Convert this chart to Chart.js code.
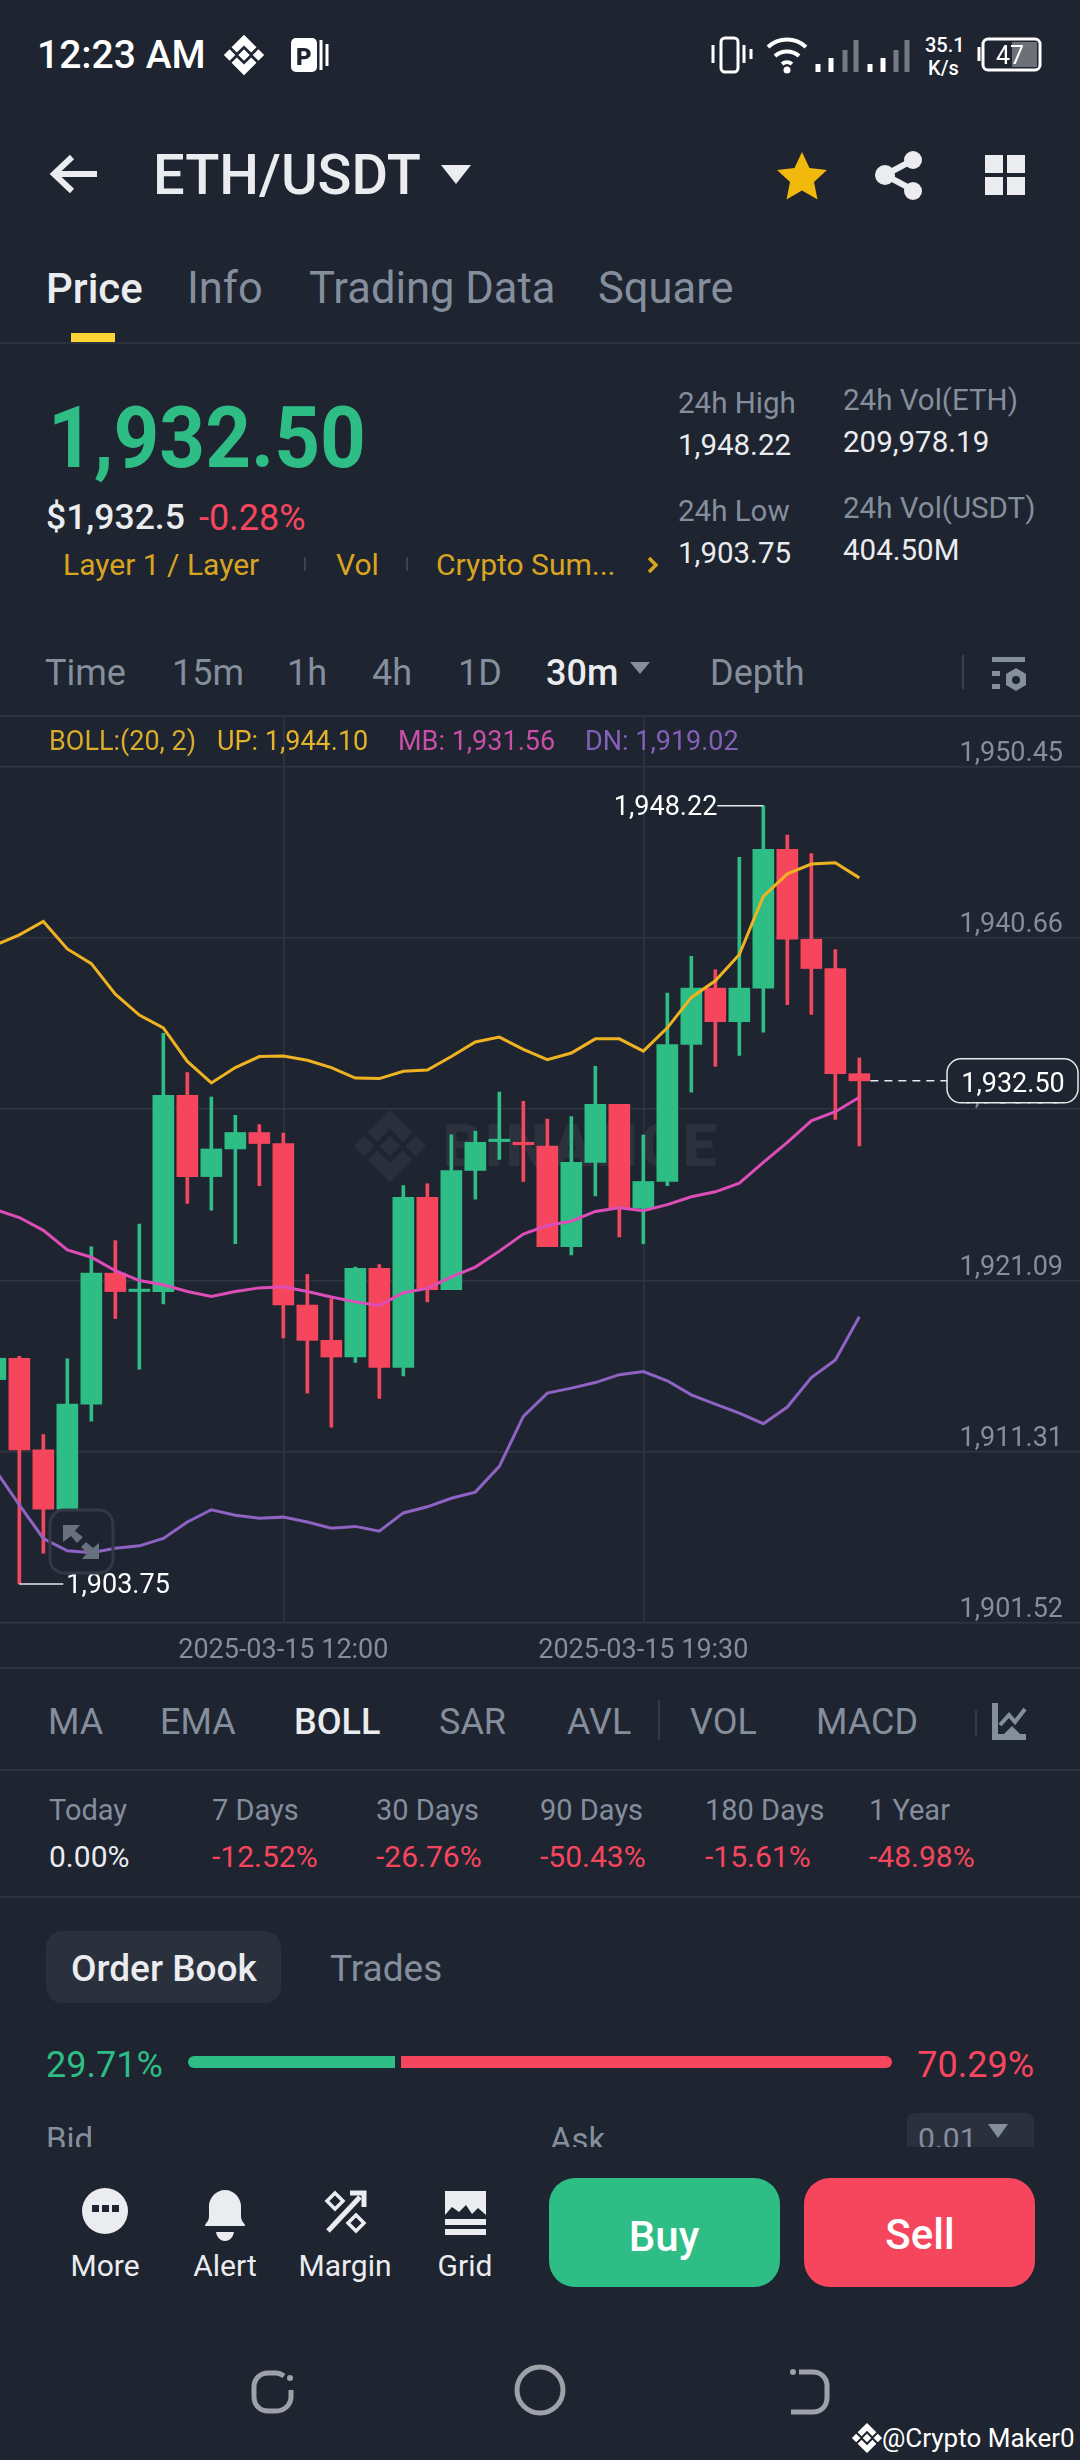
<!DOCTYPE html>
<html>
<head>
<meta charset="utf-8">
<title>ETH/USDT</title>
<script src="https://cdn.jsdelivr.net/npm/chart.js@4"></script>
<style>
  html, body { margin: 0; padding: 0; background: #1e2430; }
  #page { position: relative; width: 1080px; height: 2460px; overflow: hidden; background: #1e2430; font-family: Roboto, sans-serif; }
  .t { position: absolute; white-space: nowrap; transform: translateY(-50%); line-height: 1; }
  .rule { position: absolute; left: 0; width: 1080px; height: 2px; background: #2c323e; }
  #chartWrap { position: absolute; left: 0; top: 716px; width: 1080px; height: 952px; }
  #bookClip { position: absolute; left: 0; top: 2100px; width: 1080px; height: 47px; overflow: hidden; }
  #icons { position: absolute; left: 0; top: 0; pointer-events: none; }
</style>
</head>
<body>
<div id="page">
  <svg id="watermark" style="position:absolute;left:0;top:0" width="1080" height="2460" viewBox="0 0 1080 2460">
    <defs>
      <symbol id="bnb" viewBox="0 0 100 100">
        <path d="M50 8 L76 34 L65 45 L50 30 L35 45 L24 34 Z M50 92 L76 66 L65 55 L50 70 L35 55 L24 66 Z M8 50 L20 38 L32 50 L20 62 Z M92 50 L80 38 L68 50 L80 62 Z M50 38 L62 50 L50 62 L38 50 Z"/>
      </symbol>
    </defs>
    <use href="#bnb" x="347" y="1103" width="86" height="86" fill="#292f3b"/>
    <text x="443" y="1166" font-family="Roboto" font-weight="900" font-size="60" letter-spacing="3" fill="#2b313d">BINANCE</text>
  </svg>
  <div id="chartWrap"><canvas id="klineChart" width="1080" height="952"></canvas></div>
  <svg id="icons" width="1080" height="2460" viewBox="0 0 1080 2460">
    <!-- status bar -->
    <use href="#bnb" x="220" y="31" width="48" height="48" fill="#fff"/>
    <rect x="291" y="38" width="26" height="34" rx="5" fill="#fff"/>
    <text x="296" y="65" font-family="Roboto" font-weight="900" font-size="24" fill="#1e2430">P</text>
    <path d="M321 40v30M327 44v22" stroke="#fff" stroke-width="3"/>
    <rect x="721" y="38" width="17" height="34" rx="4" fill="none" stroke="#fff" stroke-width="3"/>
    <path d="M713 45v18M744 45v18M751 49v10" stroke="#fff" stroke-width="3"/>
    <path d="M768 47a28 28 0 0 1 38 0M775 56a18 18 0 0 1 24 0M782 64a8 8 0 0 1 10 0" fill="none" stroke="#fff" stroke-width="4"/>
    <circle cx="787" cy="70" r="3.5" fill="#fff"/>
    <path d="M818 64v8M831 58v14" stroke="#fff" stroke-width="5"/><path d="M845 50v22M856 40v32" stroke="#757a84" stroke-width="5"/>
    <path d="M870 64v8M883 58v14" stroke="#fff" stroke-width="5"/><path d="M896 50v22M907 40v32" stroke="#757a84" stroke-width="5"/>
    <rect x="1012" y="42" width="25" height="25" fill="#6c7079"/>
    <rect x="983" y="39" width="57" height="31" rx="5" fill="none" stroke="#fff" stroke-width="3"/>
    <path d="M979 47v14" stroke="#fff" stroke-width="3"/>
    <text x="1010" y="64" text-anchor="middle" font-family="Roboto" font-size="25" fill="#fff">47</text>
    <!-- header -->
    <path d="M54 174h43M72 157l-18 17 18 17" fill="none" stroke="#eaecef" stroke-width="6"/>
    <path d="M441 165h30l-15 19z" fill="#eaecef"/>
    <path d="M802 152l7.5 16 17.5 2-13 12 3.5 17.5-15.5-9-15.5 9 3.5-17.5-13-12 17.5-2z" fill="#f0b90b"/>
    <path d="M913 160L885 175l28 15" fill="none" stroke="#eaecef" stroke-width="6"/>
    <circle cx="913" cy="160" r="9" fill="#eaecef"/><circle cx="885" cy="175" r="10" fill="#eaecef"/><circle cx="913" cy="191" r="9" fill="#eaecef"/>
    <path d="M985 155h18v18h-18zM1007 155h18v18h-18zM985 177h18v18h-18zM1007 177h18v18h-18z" fill="#eaecef"/>
    <!-- tabs and tag row -->
    <rect x="71" y="333" width="44" height="9" fill="#fcd535"/>
    <path d="M305 557v14M407 557v14" stroke="#3a404c" stroke-width="2"/>
    <path d="M649 558l7 7-7 7" fill="none" stroke="#d9a520" stroke-width="3.5"/>
    <!-- interval row -->
    <path d="M630 662h20l-10 12z" fill="#848e9c"/>
    <path d="M963 655v34" stroke="#3a404c" stroke-width="2"/>
    <path d="M992 657h33v5h-33zM992 671h8v5h-8zM992 684h8v5h-8z" fill="#848e9c"/>
    <path d="M1016 668l10 6v11l-10 6-10-6v-11z" fill="#848e9c"/><circle cx="1016" cy="680" r="4" fill="#1e2430"/>
    <!-- expand button on the chart -->
    <rect x="50" y="1510" width="63" height="63" rx="14" fill="none" stroke="#333946" stroke-width="3"/>
    <path d="M63 1525h17l-5 6 8 6-6 6-6-7-8 6zM99 1559H82l5-6-6-6 5-5 7 6 6-5z" fill="#69707d"/>
    <!-- indicator row -->
    <path d="M659 1700v40M976 1710v26" stroke="#343a46" stroke-width="2"/>
    <path d="M992 1703h6v31h28v6h-34z" fill="#848e9c"/>
    <path d="M1000 1725l9-10 6 7 10-13" fill="none" stroke="#848e9c" stroke-width="4"/>
    <path d="M1004 1734l8-8 8 8z" fill="#848e9c"/>
    <!-- bottom bar -->
    <circle cx="105" cy="2211" r="23" fill="#eaecef"/>
    <path d="M92 2205h7v7h-7zM102 2205h7v7h-7zM112 2205h7v7h-7z" fill="#1e2430"/>
    <path d="M205 2226c0-3 4-4 4-10v-10c0-8 7-16 16-16s16 8 16 16v10c0 6 4 7 4 10z M216 2232h18c-1 6-5 9-9 9s-8-3-9-9z" fill="#eaecef"/>
    <path d="M328 2231l32-34" stroke="#eaecef" stroke-width="5"/>
    <path d="M350 2193h14v14" fill="none" stroke="#eaecef" stroke-width="5"/>
    <path d="M335 2193l8 8-8 8-8-8zM356 2215l8 8-8 8-8-8z" fill="none" stroke="#eaecef" stroke-width="3.5"/>
    <path d="M445 2191h41v24l-8-7-6 6-6-9-7 7-7-5-7 8z" fill="#eaecef"/>
    <path d="M445 2219h41v6h-41zM445 2229h41v6h-41z" fill="#eaecef"/>
    <!-- nav -->
    <path d="M284 2376c-3-2-5-3-8-3h-8c-8 0-14 6-14 14v10c0 8 6 14 14 14h8c8 0 15-6 15-14v-7" fill="none" stroke="#9ea1a8" stroke-width="5"/>
    <circle cx="290" cy="2378" r="3" fill="#9ea1a8"/>
    <ellipse cx="540" cy="2390" rx="23" ry="23" fill="none" stroke="#9ea1a8" stroke-width="5"/>
    <path d="M799 2372h14c8 0 14 6 14 14v12c0 8-6 14-14 14h-22" fill="none" stroke="#9ea1a8" stroke-width="5"/>
    <circle cx="793" cy="2372" r="3" fill="#9ea1a8"/>
    <use href="#bnb" x="849" y="2420" width="36" height="36" fill="#fff"/>
  </svg>
</div>

<script>
// chart data
const candleTimes = [
  '06:00', '06:30', '07:00', '07:30', '08:00', '08:30', '09:00', '09:30', '10:00', '10:30',
  '11:00', '11:30', '12:00', '12:30', '13:00', '13:30', '14:00', '14:30', '15:00', '15:30',
  '16:00', '16:30', '17:00', '17:30', '18:00', '18:30', '19:00', '19:30', '20:00', '20:30',
  '21:00', '21:30', '22:00', '22:30', '23:00', '23:30', '00:00'
];
const opens = [
  1915.43, 1916.65, 1911.41, 1908.02, 1914.03, 1921.51, 1920.46, 1920.46, 1931.68, 1927.03,
  1928.61, 1929.55, 1928.92, 1919.69, 1917.67, 1916.72, 1921.79, 1916.13, 1925.85, 1920.57,
  1927.38, 1929.03, 1928.99, 1928.78, 1923.02, 1927.84, 1931.16, 1925.22, 1926.75, 1934.58,
  1937.80, 1935.88, 1937.80, 1945.73, 1940.59, 1938.92, 1932.91
];
const closes = [
  1916.65, 1911.41, 1908.02, 1914.03, 1921.51, 1920.46, 1920.60, 1931.68, 1927.03, 1928.61,
  1929.55, 1928.92, 1919.69, 1917.67, 1916.72, 1921.79, 1916.13, 1925.85, 1920.57, 1927.38,
  1928.99, 1929.17, 1928.85, 1923.02, 1927.84, 1931.16, 1925.22, 1926.75, 1934.58, 1937.80,
  1935.88, 1937.80, 1945.73, 1940.59, 1938.92, 1932.91, 1932.50
];
const highs = [
  1916.76, 1916.76, 1912.29, 1916.62, 1923.02, 1923.37, 1924.31, 1935.21, 1932.98, 1931.58,
  1930.53, 1930.00, 1929.52, 1921.44, 1920.04, 1921.86, 1922.00, 1926.51, 1926.62, 1929.41,
  1929.62, 1931.86, 1931.33, 1930.32, 1930.46, 1933.33, 1931.16, 1929.41, 1937.52, 1939.62,
  1938.85, 1945.28, 1948.22, 1946.54, 1945.49, 1940.00, 1933.81
];
const lows = [
  1915.26, 1903.75, 1905.51, 1908.02, 1913.05, 1918.92, 1916.03, 1919.76, 1925.50, 1925.11,
  1923.19, 1926.51, 1917.81, 1914.66, 1912.71, 1916.41, 1914.35, 1915.64, 1919.87, 1920.57,
  1925.74, 1928.01, 1926.75, 1923.02, 1922.56, 1925.92, 1923.58, 1923.19, 1926.51, 1931.86,
  1933.33, 1933.95, 1935.28, 1936.85, 1936.30, 1930.29, 1928.78
];
const bollUp = [
  1940.25, 1940.84, 1941.61, 1940.04, 1939.20, 1937.45, 1936.26, 1935.53, 1933.61, 1932.38,
  1933.26, 1933.89, 1933.92, 1933.68, 1933.26, 1932.66, 1932.63, 1933.05, 1933.12, 1933.89,
  1934.72, 1935.00, 1934.30, 1933.71, 1934.09, 1934.90, 1934.90, 1934.20, 1935.53, 1937.27,
  1938.22, 1939.72, 1943.04, 1944.33, 1944.89, 1944.96, 1944.10
];
const bollMid = [
  1925.15, 1924.69, 1923.96, 1922.84, 1922.42, 1921.65, 1921.09, 1920.85, 1920.46, 1920.18,
  1920.46, 1920.67, 1920.74, 1920.46, 1920.15, 1919.87, 1919.66, 1920.39, 1920.64, 1921.30,
  1921.86, 1922.77, 1923.75, 1924.24, 1924.48, 1925.04, 1925.25, 1925.08, 1925.43, 1925.88,
  1926.16, 1926.65, 1927.84, 1928.99, 1930.22, 1930.74, 1931.56
];
const bollDown = [
  1910.26, 1908.27, 1906.35, 1905.65, 1905.54, 1905.79, 1905.93, 1906.35, 1907.29, 1907.99,
  1907.68, 1907.50, 1907.57, 1907.29, 1906.94, 1907.04, 1906.77, 1907.81, 1908.16, 1908.65,
  1909.00, 1910.47, 1913.33, 1914.66, 1914.94, 1915.26, 1915.71, 1915.89, 1915.36, 1914.56,
  1914.03, 1913.51, 1912.91, 1913.86, 1915.54, 1916.55, 1919.02
];
const priceTicks = [1950.45, 1940.66, 1930.88, 1921.09, 1911.31, 1901.52];
const timeTicks = [12, 27];
const bidShare = 29.71;
const askShare = 70.29;

const UP_COLOR = '#2ebd85';
const DOWN_COLOR = '#f6465d';
const BG = '#1e2430';
const GRID = '#2f3541';
const GRAY = '#848e9c';
const GOLD = '#d9a520';

const page = document.getElementById('page');

function text(str, x, cy, size, color, opts) {
  const el = document.createElement('div');
  el.className = 't';
  el.textContent = str;
  el.style.top = cy + 'px';
  el.style.fontSize = size + 'px';
  el.style.color = color;
  if (opts && opts.right) el.style.right = (1080 - x) + 'px';
  else el.style.left = x + 'px';
  if (opts && opts.weight) el.style.fontWeight = opts.weight;
  (opts && opts.parent ? opts.parent : page).appendChild(el);
  return el;
}

function box(x, y, w, h, color, radius) {
  const el = document.createElement('div');
  el.style.cssText = `position:absolute;left:${x}px;top:${y}px;width:${w}px;height:${h}px;background:${color};border-radius:${radius || 0}`;
  page.appendChild(el);
  return el;
}

function rule(y) {
  const el = document.createElement('div');
  el.className = 'rule';
  el.style.top = y + 'px';
  page.appendChild(el);
}

[342, 715, 1667, 1769, 1896].forEach(rule);

// status bar
text('12:23 AM', 37, 55, 39, '#fff', { weight: 500 });
text('35.1', 925, 45, 20, '#fff', { weight: 500 });
text('K/s', 928, 68, 20, '#fff', { weight: 500 });

// header and tabs
text('ETH/USDT', 153, 175, 56, '#eaecef', { weight: 500 });
text('Price', 46, 289, 42, '#eaecef', { weight: 500 });
text('Info', 187, 289, 43.5, GRAY);
text('Trading Data', 309, 289, 43.5, GRAY);
text('Square', 598, 289, 43.5, GRAY);

// price block
const bigPrice = text('1,932.50', 48, 438, 85, UP_COLOR, { weight: 700 });
bigPrice.style.transformOrigin = 'left center';
bigPrice.style.transform = 'translateY(-50%) scaleX(0.94)';
text('$1,932.5', 46, 518, 35.5, '#eaecef', { weight: 500 });
text('-0.28%', 199, 518, 36, DOWN_COLOR);
text('Layer 1 / Layer', 63, 565, 30, GOLD);
text('Vol', 336, 565, 30, GOLD);
text('Crypto Sum...', 436, 565, 30, GOLD);
text('24h High', 678, 404, 29.5, GRAY);
text('1,948.22', 678, 446, 29.5, '#eaecef');
text('24h Low', 678, 512, 29.5, GRAY);
text('1,903.75', 678, 554, 29.5, '#eaecef');
text('24h Vol(ETH)', 843, 401, 29.5, GRAY);
text('209,978.19', 843, 443, 29.5, '#eaecef');
text('24h Vol(USDT)', 843, 509, 29.5, GRAY);
text('404.50M', 843, 551, 29.5, '#eaecef');

// interval row
text('Time', 45, 673, 36, GRAY);
text('15m', 172, 673, 36, GRAY);
text('1h', 287, 673, 36, GRAY);
text('4h', 372, 673, 36, GRAY);
text('1D', 458, 673, 36, GRAY);
text('30m', 546, 673, 36, '#eaecef', { weight: 500 });
text('Depth', 710, 673, 36, GRAY);

// indicator row
text('MA', 48, 1722, 36, GRAY);
text('EMA', 160, 1722, 36, GRAY);
text('BOLL', 294, 1722, 36, '#eaecef', { weight: 500 });
text('SAR', 439, 1722, 36, GRAY);
text('AVL', 567, 1722, 36, GRAY);
text('VOL', 690, 1722, 36, GRAY);
text('MACD', 816, 1722, 36, GRAY);

// change over time row
const periodNames = ['Today', '7 Days', '30 Days', '90 Days', '180 Days', '1 Year'];
const periodChanges = ['0.00%', '-12.52%', '-26.76%', '-50.43%', '-15.61%', '-48.98%'];
const periodLeft = [49, 212, 376, 540, 705, 869];
periodNames.forEach((name, i) => {
  text(name, periodLeft[i], 1810, 29, GRAY);
  text(periodChanges[i], periodLeft[i], 1857, 30, i === 0 ? '#eaecef' : DOWN_COLOR);
});

// order book
box(46, 1931, 235, 72, '#2a303c', '16px');
text('Order Book', 71, 1968, 37, '#eaecef', { weight: 500 });
text('Trades', 330, 1968, 37, GRAY);
text(bidShare.toFixed(2) + '%', 46, 2065, 36, UP_COLOR);
text(askShare.toFixed(2) + '%', 1034, 2065, 36, DOWN_COLOR, { right: true });
const barTotal = 892 - 188 - 6;
box(188, 2056, barTotal * bidShare / 100, 12, UP_COLOR, '6px 0 0 6px');
box(188 + barTotal * bidShare / 100 + 6, 2056, barTotal * askShare / 100, 12, DOWN_COLOR, '0 6px 6px 0');
const clip = document.createElement('div');
clip.id = 'bookClip';
page.appendChild(clip);
text('Bid', 46, 39, 33, GRAY, { parent: clip });
text('Ask', 550, 39, 33, GRAY, { parent: clip });
const stepBox = document.createElement('div');
stepBox.style.cssText = 'position:absolute;left:907px;top:13px;width:127px;height:60px;background:#2a303c;border-radius:8px';
clip.appendChild(stepBox);
text('0.01', 918, 39, 30, GRAY, { parent: clip });
const stepArrow = document.createElement('div');
stepArrow.style.cssText = 'position:absolute;left:988px;top:24px;width:0;height:0;border-left:10px solid transparent;border-right:10px solid transparent;border-top:14px solid #848e9c';
clip.appendChild(stepArrow);

// bottom bar
const actionNames = ['More', 'Alert', 'Margin', 'Grid'];
const actionCentre = [105, 225, 345, 465];
actionNames.forEach((name, i) => {
  const el = text(name, actionCentre[i], 2266, 30, '#eaecef');
  el.style.transform = 'translate(-50%,-50%)';
});
box(549, 2178, 231, 109, UP_COLOR, '26px');
box(804, 2178, 231, 109, DOWN_COLOR, '26px');
text('Buy', 664, 2237, 42, '#fff', { weight: 500 }).style.transform = 'translate(-50%,-50%)';
text('Sell', 920, 2235, 42, '#fff', { weight: 500 }).style.transform = 'translate(-50%,-50%)';
text('@Crypto Maker0', 882, 2438, 26, '#fff');

// legend sits above the chart so it stays DOM text
const legendLine = document.createElement('div');
legendLine.style.cssText = 'position:absolute;inset:0;z-index:3';
page.appendChild(legendLine);
text('BOLL:(20, 2)', 49, 741, 27, '#d9ac2c', { parent: legendLine });
text('UP: 1,944.10', 217, 741, 27, '#e3b32c', { parent: legendLine });
text('MB: 1,931.56', 398, 741, 27, '#c94fa9', { parent: legendLine });
text('DN: 1,919.02', 585, 741, 27, '#8560b8', { parent: legendLine });

// icons go back on top of the boxes drawn above
page.appendChild(document.getElementById('icons'));

function priceLabel(v) {
  return v.toLocaleString('en-US', { minimumFractionDigits: 2, maximumFractionDigits: 2 });
}

// high / low callouts and the last price pill, placed through the scales
const priceMarks = {
  id: 'priceMarks',
  afterDraw(chart) {
    const { ctx, scales: { x, y } } = chart;
    const highIdx = highs.indexOf(Math.max(...highs));
    const lowIdx = lows.indexOf(Math.min(...lows));
    const last = closes[closes.length - 1];
    ctx.save();
    ctx.font = '27px Roboto';
    ctx.textBaseline = 'middle';
    ctx.strokeStyle = '#e6e8ea';
    ctx.fillStyle = '#fff';
    ctx.lineWidth = 1.5;

    const hx = x.getPixelForValue(highIdx);
    const hy = y.getPixelForValue(highs[highIdx]);
    ctx.beginPath();
    ctx.moveTo(hx, hy);
    ctx.lineTo(hx - 46, hy);
    ctx.stroke();
    ctx.textAlign = 'right';
    ctx.fillText(priceLabel(highs[highIdx]), hx - 46, hy + 2);

    const lx = x.getPixelForValue(lowIdx);
    const ly = y.getPixelForValue(lows[lowIdx]);
    ctx.beginPath();
    ctx.moveTo(lx, ly);
    ctx.lineTo(lx + 44, ly);
    ctx.stroke();
    ctx.textAlign = 'left';
    ctx.fillText(priceLabel(lows[lowIdx]), lx + 47, ly + 2);

    const lastY = y.getPixelForValue(last);
    const pillLeft = 947;
    ctx.setLineDash([8, 6]);
    ctx.beginPath();
    ctx.moveTo(x.getPixelForValue(closes.length - 1) + 11, lastY);
    ctx.lineTo(pillLeft, lastY);
    ctx.stroke();
    ctx.setLineDash([]);
    ctx.beginPath();
    ctx.roundRect(pillLeft, lastY - 22, 131, 44, 14);
    ctx.fillStyle = BG;
    ctx.fill();
    ctx.stroke();
    ctx.fillStyle = '#fff';
    ctx.textAlign = 'center';
    ctx.fillText(priceLabel(last), pillLeft + 66, lastY + 4);
    ctx.restore();
  }
};

const candleIndex = candleTimes.map((_, i) => i);
const candleColors = closes.map((c, i) => (c >= opens[i] ? UP_COLOR : DOWN_COLOR));

function lineSet(label, values, color) {
  return {
    type: 'line',
    label: label,
    data: values.map((v, i) => ({ x: candleIndex[i], y: v })),
    borderColor: color,
    borderWidth: 3,
    pointRadius: 0,
    tension: 0,
    fill: false,
    order: 0
  };
}

new Chart(document.getElementById('klineChart').getContext('2d'), {
  type: 'bar',
  data: {
    datasets: [
      lineSet('UP', bollUp, '#efb321'),
      lineSet('MB', bollMid, '#dd4db8'),
      lineSet('DN', bollDown, '#8e63c4'),
      {
        label: 'Body',
        data: candleIndex.map(i => ({ x: i, y: [opens[i], closes[i]] })),
        backgroundColor: candleColors,
        barThickness: 21,
        grouped: false,
        order: 1
      },
      {
        label: 'Wick',
        data: candleIndex.map(i => ({ x: i, y: [lows[i], highs[i]] })),
        backgroundColor: candleColors,
        barThickness: 3,
        grouped: false,
        order: 2
      }
    ]
  },
  options: {
    responsive: false,
    animation: false,
    layout: { padding: 0 },
    plugins: { legend: { display: false }, tooltip: { enabled: false } },
    scales: {
      x: {
        type: 'linear',
        offset: false,
        min: 0.1944,
        max: 45.1944,
        afterBuildTicks(scale) {
          scale.ticks = timeTicks.map(v => ({ value: v }));
        },
        afterFit(scale) {
          scale.height = 45;
          scale.paddingLeft = 0;
          scale.paddingRight = 0;
        },
        grid: { color: GRID, lineWidth: 1.5, offset: false, drawTicks: false },
        border: { display: false },
        ticks: {
          autoSkip: false,
          maxRotation: 0,
          padding: 12,
          color: GRAY,
          font: { family: 'Roboto', size: 27 },
          callback: v => '2025-03-15 ' + candleTimes[v]
        }
      },
      y: {
        type: 'linear',
        position: 'right',
        min: 1901.52,
        max: 1953.35,
        beginAtZero: false,
        afterBuildTicks(scale) {
          scale.ticks = priceTicks.map(v => ({ value: v }));
        },
        afterFit(scale) {
          scale.width = 0;
          scale.paddingTop = 0;
          scale.paddingBottom = 0;
        },
        grid: { color: GRID, lineWidth: 1.5, drawTicks: false },
        border: { display: false },
        ticks: {
          mirror: true,
          padding: -17,
          color: GRAY,
          font: { family: 'Roboto', size: 27, lineHeight: 0.92 },
          // the blank second line lifts each label above its grid line
          callback: v => [priceLabel(v), '']
        }
      }
    }
  },
  plugins: [priceMarks]
});
</script>
</body>
</html>
